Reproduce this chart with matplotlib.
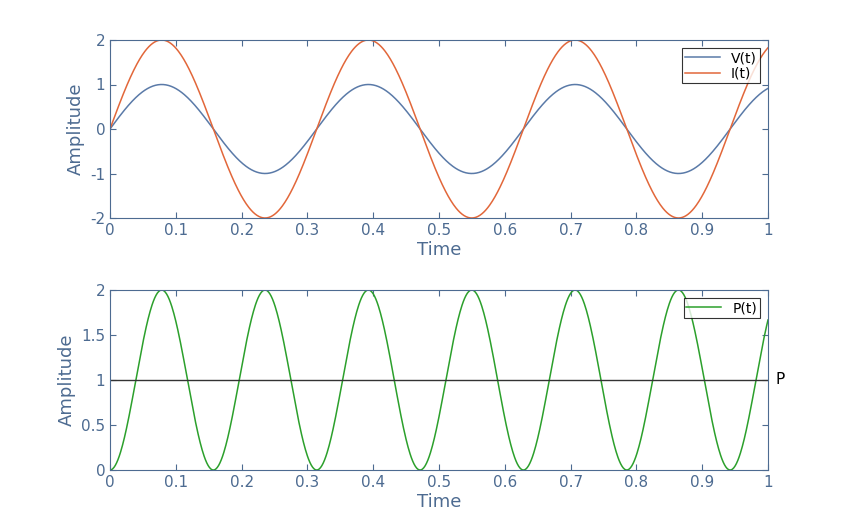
import numpy as np
import matplotlib
matplotlib.use("Agg")
import matplotlib.pyplot as plt

omega = 20.0          # rad/s
v_amp = 1.0
i_amp = 2.0
p_mean = 1.0
t = np.linspace(0, 1, 1001)
V = v_amp * np.sin(omega * t)
I = i_amp * np.sin(omega * t)
P = V * I

xticks = [0, 0.1, 0.2, 0.3, 0.4, 0.5, 0.6, 0.7, 0.8, 0.9, 1]
xticklabels = ["0", "0.1", "0.2", "0.3", "0.4", "0.5", "0.6", "0.7", "0.8", "0.9", "1"]
yticks_top = [-2, -1, 0, 1, 2]
yticks_bot = [0, 0.5, 1, 1.5, 2]

axc = "#4d6b91"
fig = plt.figure(figsize=(8.5, 5.3), dpi=100)
W, H = 850, 530
ax1 = fig.add_axes([110/W, 1-218/H, 658/W, 178/H])
ax2 = fig.add_axes([110/W, 1-470/H, 658/W, 180/H])

for ax in (ax1, ax2):
    ax.set_xlim(0, 1)
    ax.set_xticks(xticks)
    ax.set_xticklabels(xticklabels)
    ax.tick_params(direction="in", colors=axc, labelsize=11, length=4, top=True, right=True)
    for s in ax.spines.values():
        s.set_color(axc)
    ax.set_xlabel("Time", color=axc, fontsize=13, labelpad=2)
    ax.set_ylabel("Amplitude", color=axc, fontsize=13)

ax1.plot(t, V, color="#5a7aa8", lw=1.1, label="V(t)")
ax1.plot(t, I, color="#e2673a", lw=1.1, label="I(t)")
ax1.set_ylim(-2, 2)
ax1.set_yticks(yticks_top)
ax1.set_yticklabels([str(v) for v in yticks_top])
ax1.legend(loc="upper right", fontsize=10, frameon=True, fancybox=False,
           edgecolor="black", borderpad=0.2, handlelength=2.5, labelspacing=0.1,
           borderaxespad=0.6).get_frame().set_linewidth(0.8)

ax2.plot(t, P, color="#2ca02c", lw=1.1, label="P(t)")
ax2.axhline(p_mean, color="#333333", lw=1.0)
ax2.text(1.012, p_mean, "P", transform=ax2.get_yaxis_transform(), va="center", fontsize=11)
ax2.set_ylim(0, 2)
ax2.set_yticks(yticks_bot)
ax2.set_yticklabels(["0", "0.5", "1", "1.5", "2"])
ax2.legend(loc="upper right", fontsize=10, frameon=True, fancybox=False,
           edgecolor="black", borderpad=0.2, handlelength=2.5,
           borderaxespad=0.6).get_frame().set_linewidth(0.8)

fig.savefig("out.png", dpi=100)
